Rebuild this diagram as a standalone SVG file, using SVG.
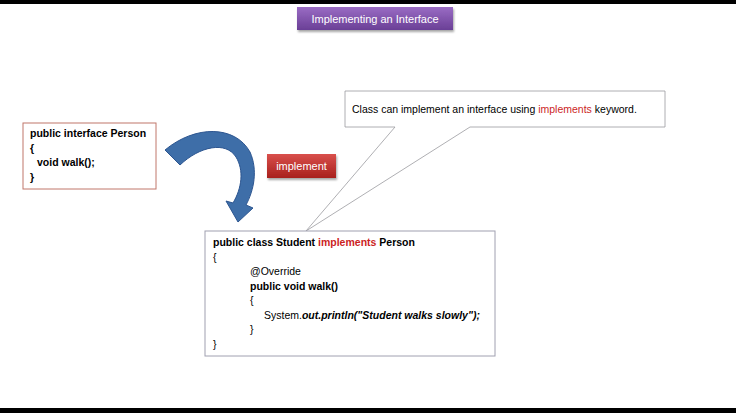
<svg xmlns="http://www.w3.org/2000/svg" width="736" height="413" viewBox="0 0 736 413">
<defs>
<linearGradient id="pg" x1="0" y1="0" x2="0" y2="1"><stop offset="0" stop-color="#9a6cc4"/><stop offset="1" stop-color="#6a3f96"/></linearGradient>
<linearGradient id="rg" x1="0" y1="0" x2="0" y2="1"><stop offset="0" stop-color="#d9504c"/><stop offset="1" stop-color="#a8201d"/></linearGradient>
<filter id="sh" x="-10%" y="-10%" width="130%" height="140%"><feDropShadow dx="1" dy="2" stdDeviation="1.2" flood-opacity="0.35"/></filter>
</defs>
<style>
text{font-family:"Liberation Sans",Arial,sans-serif;font-size:10.5px;fill:#000}
.b{font-weight:bold}
.r{fill:#cc1f1f}
.w{fill:#fff;font-size:11px}
.box{fill:#fff}
</style>
<rect width="736" height="413" fill="#fff"/>
<rect x="0" y="0" width="736" height="4" fill="#000"/>
<rect x="0" y="408" width="736" height="5" fill="#000"/>
<g id="title">
<rect x="297" y="7" width="156" height="23" fill="url(#pg)" filter="url(#sh)"/>
<text x="375" y="22.5" text-anchor="middle" class="w">Implementing an Interface</text>
</g>
<g id="connectors">
<path d="M165,150 C195,125 235,125 250,152 C258,170 254,190 246,205 L253,208 L238,222 L226,201 L233,203 C242,188 244,170 236,157 C226,141 200,146 180,165 Z" fill="#3e6ea8" stroke="#2c5590" stroke-width="1"/>
</g>
<g id="callout">
<path d="M345,91 H665 V127 H470 L306,231 L395,127 H345 Z" fill="#fff" stroke="#9a9aa0" stroke-width="0.8"/>
<text x="352" y="113">Class can implement an interface using <tspan class="r">implements</tspan> keyword.</text>
</g>
<g id="interface">
<rect x="23" y="123" width="133" height="66" class="box" stroke="#c0776a" stroke-width="1"/>
<text x="30" y="137" class="b">public interface Person</text>
<text x="30" y="152" class="b">{</text>
<text x="37" y="166" class="b">void walk();</text>
<text x="30" y="181" class="b">}</text>
</g>
<g id="implement">
<rect x="267" y="154" width="69" height="24" fill="url(#rg)" filter="url(#sh)"/>
<text x="301.5" y="170" text-anchor="middle" class="w">implement</text>
</g>
<g id="student">
<rect x="205" y="231" width="290" height="125" class="box" stroke="#a0a0b0" stroke-width="1"/>
<text x="213" y="246" class="b">public class Student <tspan class="r">implements</tspan> Person</text>
<text x="213" y="261">{</text>
<text x="250" y="275">@Override</text>
<text x="250" y="290" class="b">public void walk()</text>
<text x="250" y="304">{</text>
<text x="264" y="319">System.<tspan class="b" font-style="italic">out.println("Student walks slowly");</tspan></text>
<text x="250" y="333">}</text>
<text x="213" y="348">}</text>
</g>
</svg>
